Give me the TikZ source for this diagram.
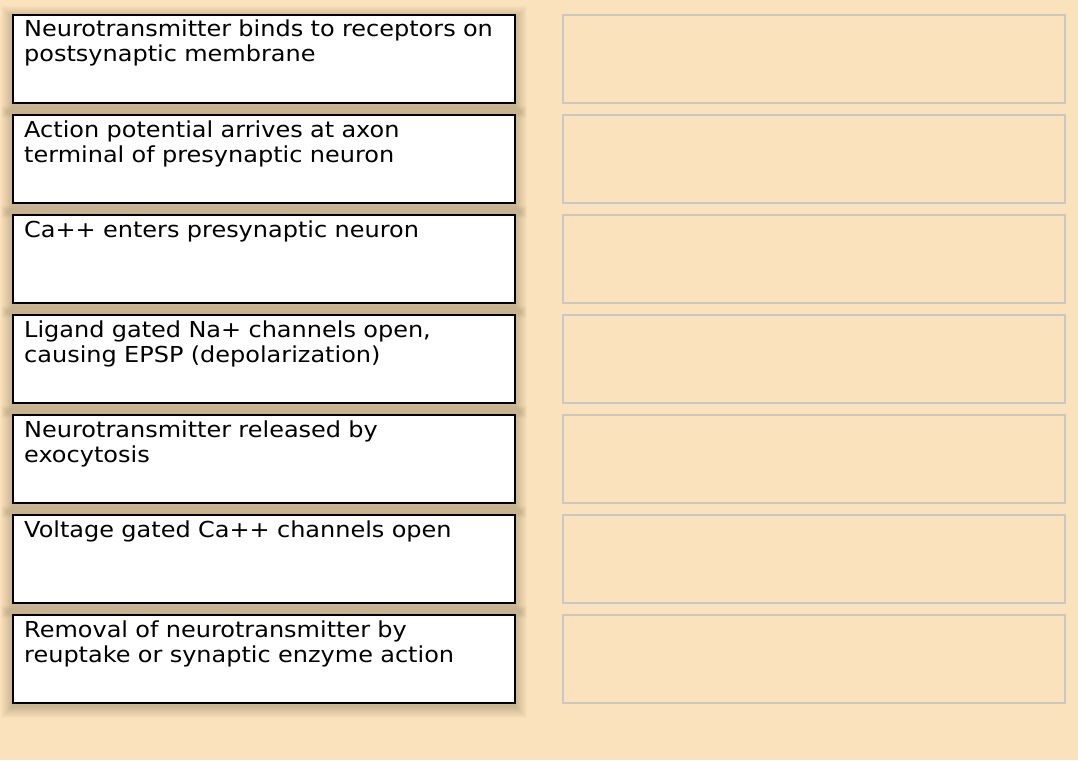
\documentclass[tikz,border=0pt]{standalone}
\usepackage{fontspec}
\setmainfont[FakeStretch=1.09]{DejaVu Sans}
\definecolor{bgc}{RGB}{250,227,188}
\definecolor{grayb}{RGB}{200,200,200}
\definecolor{shadowc}{RGB}{80,65,45}
\tikzset{
  leftbox/.style={draw=black, line width=2pt, fill=white, minimum width=502pt, minimum height=88pt, inner sep=0pt},
  rightbox/.style={draw=grayb, line width=2pt, minimum width=502pt, minimum height=88pt, inner sep=0pt},
  lbl/.style={anchor=base west, inner sep=0pt, text width=500pt, align=left,
    font=\fontsize{22pt}{25pt}\selectfont},
  shadowlayer/.style={fill=shadowc, fill opacity=0.022}
}
\begin{document}
\begin{tikzpicture}[x=1pt,y=-1pt]
\fill[bgc] (0,0) rectangle (1078,760);
\useasboundingbox (0,0) rectangle (1078,760);
\foreach \i in {1,...,7}{
  \foreach \k in {1,...,12}{
    \fill[shadowlayer] (13-\k, {15+100*(\i-1)+3-\k}) rectangle (515+\k, {103+100*(\i-1)+3+\k});
  }
}
\foreach \i/\t in {1/{Neurotransmitter binds to receptors on\\postsynaptic membrane},
                   2/{Action potential arrives at axon\\terminal of presynaptic neuron},
                   3/{Ca++ enters presynaptic neuron},
                   4/{Ligand gated Na+ channels open,\\causing EPSP (depolarization)},
                   5/{Neurotransmitter released by\\exocytosis},
                   6/{Voltage gated Ca++ channels open},
                   7/{Removal of neurotransmitter by\\reuptake or synaptic enzyme action}}{
  \node[leftbox] (l\i) at (264, {59+100*(\i-1)}) {};
  \node[lbl] (t\i) at ([xshift=12pt,yshift=-23pt]l\i.north west) {\t};
  \node[rightbox] (r\i) at (814, {59+100*(\i-1)}) {};
}
\end{tikzpicture}
\end{document}
